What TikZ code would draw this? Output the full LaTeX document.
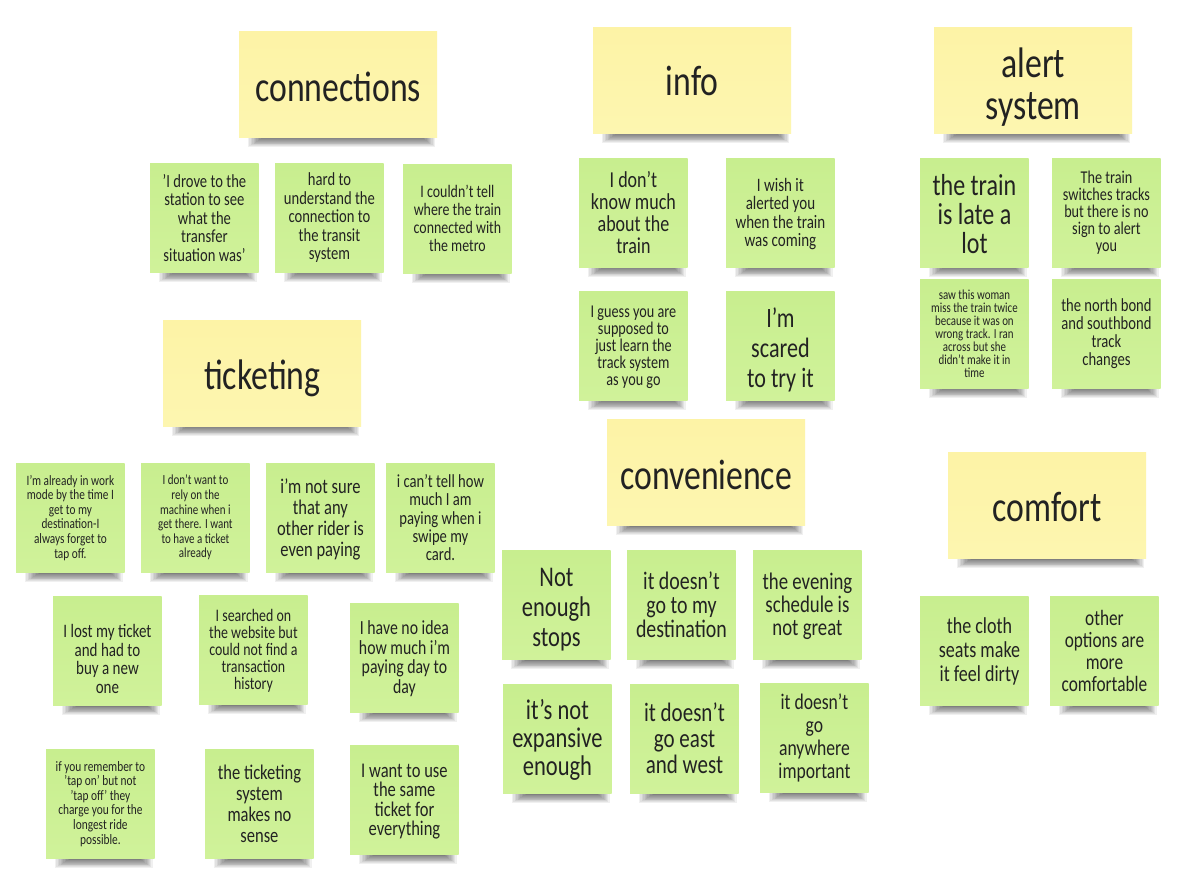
\documentclass[tikz,border=0pt]{standalone}
\usepackage{fontspec}
\setmainfont[FakeStretch=0.79]{Carlito}
\definecolor{greentop}{HTML}{C8EE8F}
\definecolor{greenbot}{HTML}{D0F29A}
\definecolor{yellowtop}{HTML}{FDF3A6}
\definecolor{yellowbot}{HTML}{FDF6B0}
\definecolor{ink}{HTML}{222222}
\tikzset{
  x=1pt,y=-1pt,
  stickybase/.style={anchor=north west,inner sep=0pt},
  greennote/.style={stickybase,minimum width=108.5pt,minimum height=109pt,top color=greentop,bottom color=greenbot},
  yellownote/.style={stickybase,minimum width=198pt,minimum height=106pt,top color=yellowtop,bottom color=yellowbot},
  stickytext/.style={inner sep=0pt,align=center,text=ink},
  stickyshadow/.style={fill=black,fill opacity=0.06,draw=none}
}
\newcommand\castshadow[3]{%
  \foreach \i in {0,...,11}{%
    \fill[stickyshadow] ({#1+9+1.4*\i},{#2-3}) rectangle ({#3-2-1.2*\i},{#2+10-0.85*\i});
  }%
}
\newcommand\notefont[2]{\fontsize{#1pt}{#2pt}\selectfont\spaceskip=.18em\relax}
% [label options], name, x, y, font size, leading, text
\newcommand\gnote[7][]{%
  \castshadow{#3}{#4+109}{#3+108.5}%
  \node[greennote,label={[stickytext,font=\notefont{#5}{#6},#1]center:{#7}}] (#2) at (#3,#4) {};%
}
\newcommand\ynote[7][]{%
  \castshadow{#3}{#4+106}{#3+198}%
  \node[yellownote,label={[stickytext,font=\notefont{#5}{#6},#1]center:{#7}}] (#2) at (#3,#4) {};%
}
\begin{document}
\begin{tikzpicture}
\fill[white] (0,0) rectangle (1200,882);
\useasboundingbox (0,0) rectangle (1200,882);
% headers
\ynote[yshift=-3pt]{hconn}{239}{31}{42.7}{42}{connections}
\ynote[yshift=-1pt]{hinfo}{593}{27}{42.7}{42}{info}
\ynote[yshift=-6.5pt]{halert}{934}{27}{42.7}{42}{alert\\system}
\ynote[yshift=-5.5pt]{hticket}{163}{320}{42.7}{42}{ticketing}
\ynote[yshift=-3pt]{hconv}{607}{419}{42.7}{42}{convenience}
\ynote[yshift=-2pt]{hcomf}{948}{452}{42.7}{42}{comfort}
% connections
\gnote{c1}{150}{163}{18.5}{18.5}{'I drove to the\\station to see\\what the\\transfer\\situation was'}
\gnote{c2}{275}{163}{18.5}{18.5}{hard to\\understand the\\connection to\\the transit\\system}
\gnote{c3}{403}{164}{17.6}{18}{I couldn't tell\\where the train\\connected with\\the metro}
% info
\gnote{i1}{579}{158}{22.8}{22}{I don't\\know much\\about the\\train}
\gnote[yshift=-1.5pt]{i2}{726}{158}{19}{18.5}{I wish it\\alerted you\\when the train\\was coming}
\gnote[yshift=-2pt]{i3}{579}{291}{18}{17}{I guess you are\\supposed to\\just learn the\\track system\\as you go}
\gnote[yshift=-4pt]{i4}{726}{291}{28}{30}{I'm\\scared\\to try it}
% alert
\gnote[yshift=-1pt]{a1}{920}{158}{30.4}{29}{the train\\is late a\\lot}
\gnote{a2}{1052}{158}{18}{17}{The train\\switches tracks\\but there is no\\sign to alert\\you}
\gnote{a3}{920}{279}{13.8}{12.9}{saw this woman\\miss the train twice\\because it was on\\wrong track. I ran\\across but she\\didn't make it in\\time}
\gnote{a4}{1052}{279}{18.5}{18}{the north bond\\and southbond\\track\\changes}
% ticketing
\gnote{t1}{16}{463}{14.3}{14.6}{I'm already in work\\mode by the time I\\get to my\\destination-I\\always forget to\\tap off.}
\gnote{t2}{141}{463}{13.9}{14.6}{I don't want to\\rely on the\\machine when i\\get there. I want\\to have a ticket\\already}
\gnote[yshift=-1.5pt]{t3}{266}{463}{20.9}{21}{i'm not sure\\that any\\other rider is\\even paying}
\gnote{t4}{386}{463}{18.5}{18.2}{i can't tell how\\much I am\\paying when i\\swipe my\\card.}
\gnote[yshift=-8.5pt]{t5}{53}{596}{19}{18.5}{I lost my ticket\\and had to\\buy a new\\one}
\gnote[yshift=-1pt]{t6}{199}{595}{17.6}{17}{I searched on\\the website but\\could not find a\\transaction\\history}
\gnote[yshift=-1pt]{t7}{350}{603}{20}{19.5}{I have no idea\\how much i'm\\paying day to\\day}
\gnote{t8}{46}{749}{14.4}{14.6}{if you remember to\\'tap on' but not\\'tap off' they\\charge you for the\\longest ride\\possible.}
\gnote{t9}{205}{749}{20.9}{21}{the ticketing\\system\\makes no\\sense}
\gnote[yshift=-2pt]{t10}{350}{745}{20.9}{19.5}{I want to use\\the same\\ticket for\\everything}
% convenience
\gnote[yshift=-4.5pt]{v1}{502}{550}{28.5}{30}{Not\\enough\\stops}
\gnote{v2}{627}{550}{25.2}{24}{it doesn't\\go to my\\destination}
\gnote[yshift=-2pt]{v3}{753}{550}{23.8}{23}{the evening\\schedule is\\not great}
\gnote[yshift=-1.5pt]{v4}{503}{684}{28.5}{28}{it's not\\expansive\\enough}
\gnote{v5}{630}{684}{26.6}{26}{it doesn't\\go east\\and west}
\gnote{v6}{760}{683}{22.3}{23}{it doesn't\\go\\anywhere\\important}
% comfort
\gnote[yshift=-1pt,xshift=5pt]{f1}{920}{596}{22.8}{24}{the cloth\\seats make\\it feel dirty}
\gnote{f2}{1050}{596}{21.9}{22}{other\\options are\\more\\comfortable}
\end{tikzpicture}
\end{document}
